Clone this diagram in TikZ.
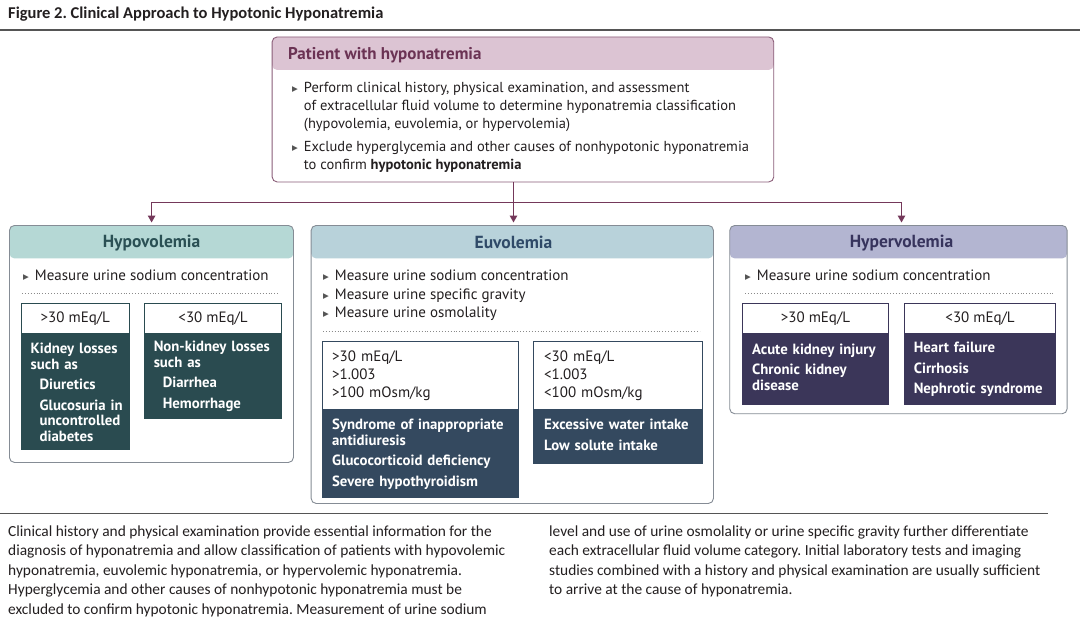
\documentclass[tikz,border=0pt]{standalone}
\usepackage{fontspec}
\setmainfont{PT Sans}
\newfontfamily\capfont{Carlito}
\newfontfamily\symfont{DejaVu Sans}
\usetikzlibrary{positioning,arrows.meta}
\frenchspacing

\definecolor{ink}{HTML}{231F20}
\definecolor{rulegray}{HTML}{555555}
\definecolor{catgray}{HTML}{858C95}
\definecolor{dotgray}{HTML}{8A8A8A}
\definecolor{bulgray}{HTML}{555555}
\definecolor{topline}{HTML}{8A5D78}
\definecolor{tophead}{HTML}{DCC4D3}
\definecolor{topink}{HTML}{6B3354}
\definecolor{linkred}{HTML}{74385A}
\definecolor{hypohead}{HTML}{B5D8D5}
\definecolor{hypoink}{HTML}{2A5054}
\definecolor{hypodark}{HTML}{2A4B50}
\definecolor{euvohead}{HTML}{B8D2DA}
\definecolor{euvoink}{HTML}{2F4A68}
\definecolor{euvodark}{HTML}{34495F}
\definecolor{hyperhead}{HTML}{B3B5D1}
\definecolor{hyperink}{HTML}{37345D}
\definecolor{hyperdark}{HTML}{3B3659}

\newcommand\bul{{\symfont\fontsize{7.5}{8}\selectfont\color{bulgray}\raisebox{1pt}{▶}}\hspace{6pt}}
\newcommand\sub[1]{\mbox{\hspace*{9pt}#1}}

\tikzset{
  catbox/.style={draw=catgray, line width=0.9pt, rounded corners=5pt, anchor=north west, inner sep=0pt,
    path picture={\fill[#1] (path picture bounding box.north west) rectangle ([yshift=-33pt]path picture bounding box.north east);}},
  cattitle/.style={anchor=base, inner sep=0pt, text=#1, font=\fontsize{17.5}{18}\selectfont\bfseries},
  item/.style={anchor=base west, inner sep=0pt, text=ink, font=\fontsize{15}{18}\selectfont},
  sep/.style={dotgray, dotted, line width=0.9pt},
  cut/.style={draw=#1, fill=white, line width=0.9pt, anchor=north west, inner sep=0pt, text=ink, font=\fontsize{15}{18}\selectfont},
  cause/.style={draw=#1, fill=#1, line width=0.9pt, inner xsep=10pt, inner ysep=0pt, text=white, align=left,
    font=\fontsize{14.8}{15.5}\selectfont\bfseries},
  link/.style={linkred, line width=1.3pt, -{Triangle[width=7.5pt,length=7pt]}, shorten >=2.5pt},
  rule/.style={rulegray, line width=1.1pt}
}

\begin{document}
\begin{tikzpicture}[x=1pt, y=-1pt]
\useasboundingbox[fill=white] (0,0) rectangle (1080,627);

% heading
\node[anchor=base west, inner sep=0pt, text=ink, font=\capfont\fontsize{16.5}{18}\selectfont\bfseries] (fig) at (8,18.5)
  {Figure 2. Clinical Approach to Hypotonic Hyponatremia};
\draw[rule] (0,30) -- (1080,30);

% patient
\node[catbox=tophead, draw=topline, minimum width=501.6pt, minimum height=145pt] (patient) at (271.7,36.5) {};
\node[anchor=base west, inner sep=0pt, text=topink, font=\fontsize{17}{18}\selectfont\bfseries] (patientT) at (288,59.3)
  {Patient with hyponatremia};
\node[item, font=\fontsize{14.5}{18}\selectfont] (patientA) at (292,92) {\bul\begin{tabular}[t]{@{}l@{}}Perform clinical history, physical examination, and assessment\\
  of extracellular fluid volume to determine hyponatremia classification\\
  (hypovolemia, euvolemia, or hypervolemia)\end{tabular}};
\node[item, font=\fontsize{14.5}{18}\selectfont] (patientB) at (292,151) {\bul\begin{tabular}[t]{@{}l@{}}Exclude hyperglycemia and other causes of nonhypotonic hyponatremia\\
  to confirm \textbf{hypotonic hyponatremia}\end{tabular}};

% hypovolemia
\node[catbox=hypohead, minimum width=284pt, minimum height=237pt] (hypo) at (9,225) {};
\node[cattitle=hypoink] (hypoT) at (151.6,247) {Hypovolemia};
\node[item] (hypoM) at (23,280) {\bul Measure urine sodium concentration};
\draw[sep] (22,293.3) -- (279,293.3);
\node[cut=hypodark, minimum width=108.3pt, minimum height=30pt] (hypoA) at (20.7,303.3) {>30 mEq/L};
\node[cause=hypodark, text width=89.3pt, inner xsep=9.5pt, minimum height=115pt, below=0pt of hypoA] (hypoAc)
  {Kidney losses\\such as\\[5pt]\sub{Diuretics}\\[5pt]\sub{Glucosuria in}\\\sub{uncontrolled}\\\sub{diabetes}};
\node[cut=hypodark, minimum width=136.7pt, minimum height=30pt] (hypoB) at (144.3,303.3) {<30 mEq/L};
\node[cause=hypodark, text width=118.7pt, inner xsep=9pt, minimum height=83.4pt, below=0pt of hypoB] (hypoBc)
  {\mbox{Non-kidney losses}\\such as\\[5pt]\sub{Diarrhea}\\[5pt]\sub{Hemorrhage}};

% euvolemia
\node[catbox=euvohead, minimum width=402.3pt, minimum height=278pt] (euvo) at (310.7,225) {};
\node[cattitle=euvoink] (euvoT) at (513.5,248) {Euvolemia};
\node[item] (euvoM1) at (323,280) {\bul Measure urine sodium concentration};
\node[item] (euvoM2) at (323,299) {\bul Measure urine specific gravity};
\node[item] (euvoM3) at (323,317.7) {\bul Measure urine osmolality};
\draw[sep] (323,331.7) -- (700,331.7);
\node[cut=euvodark, minimum width=196.6pt, minimum height=68.3pt, text width=176.6pt, align=left, inner xsep=10pt] (euvoA) at (321.7,341)
  {>30 mEq/L\\>1.003\\>100 mOsm/kg};
\node[cause=euvodark, text width=176.6pt, minimum height=86.7pt, below=0pt of euvoA] (euvoAc)
  {Syndrome of inappropriate\\antidiuresis\\[5pt]Glucocorticoid deficiency\\[5pt]Severe hypothyroidism};
\node[cut=euvodark, minimum width=169pt, minimum height=68.3pt, text width=147pt, align=left, inner xsep=11pt] (euvoB) at (532.7,341)
  {<30 mEq/L\\<1.003\\<100 mOsm/kg};
\node[cause=euvodark, text width=147pt, inner xsep=11pt, minimum height=53pt, below=0pt of euvoB] (euvoBc)
  {Excessive water intake\\[5pt]Low solute intake\par\vspace*{5pt}};

% hypervolemia
\node[catbox=hyperhead, minimum width=337.4pt, minimum height=188.3pt] (hyper) at (729.3,225) {};
\node[cattitle=hyperink] (hyperT) at (901.5,247.3) {Hypervolemia};
\node[item] (hyperM) at (745,280) {\bul Measure urine sodium concentration};
\draw[sep] (745,293.3) -- (1053,293.3);
\node[cut=hyperdark, minimum width=146.6pt, minimum height=30pt] (hyperA) at (741.7,303.3) {>30 mEq/L};
\node[cause=hyperdark, text width=126.6pt, minimum height=70pt, below=0pt of hyperA] (hyperAc)
  {Acute kidney injury\\[5pt]Chronic kidney\\disease\par\vspace*{5pt}};
\node[cut=hyperdark, minimum width=150.7pt, minimum height=30pt] (hyperB) at (904.3,303.3) {<30 mEq/L};
\node[cause=hyperdark, text width=132.7pt, inner xsep=9pt, minimum height=70pt, below=0pt of hyperB] (hyperBc)
  {Heart failure\\[5pt]Cirrhosis\\[5pt]\mbox{Nephrotic syndrome}};

% connectors
\path (patient.south -| euvoT) ++(0,20) coordinate (fork);
\draw[link] (patient.south -| euvoT) -- (euvoT |- euvo.north);
\draw[link] (fork) -| (hypoT |- hypo.north);
\draw[link] (fork) -| (hyperT |- hyper.north);

% caption
\draw[rule] (0,513.3) -- (1048,513.3);
\node[anchor=base west, inner sep=0pt, text=ink, font=\capfont\fontsize{15.4}{19.5}\selectfont] (capL) at (8,536)
  {\begin{tabular}[t]{@{}l@{}}Clinical history and physical examination provide essential information for the\\
  diagnosis of hyponatremia and allow classification of patients with hypovolemic\\
  hyponatremia, euvolemic hyponatremia, or hypervolemic hyponatremia.\\
  Hyperglycemia and other causes of nonhypotonic hyponatremia must be\\
  excluded to confirm hypotonic hyponatremia. Measurement of urine sodium\end{tabular}};
\node[anchor=base west, inner sep=0pt, text=ink, font=\capfont\fontsize{15.4}{19.5}\selectfont] (capR) at (549,536)
  {\begin{tabular}[t]{@{}l@{}}level and use of urine osmolality or urine specific gravity further differentiate\\
  each extracellular fluid volume category. Initial laboratory tests and imaging\\
  studies combined with a history and physical examination are usually sufficient\\
  to arrive at the cause of hyponatremia.\end{tabular}};
\end{tikzpicture}
\end{document}
